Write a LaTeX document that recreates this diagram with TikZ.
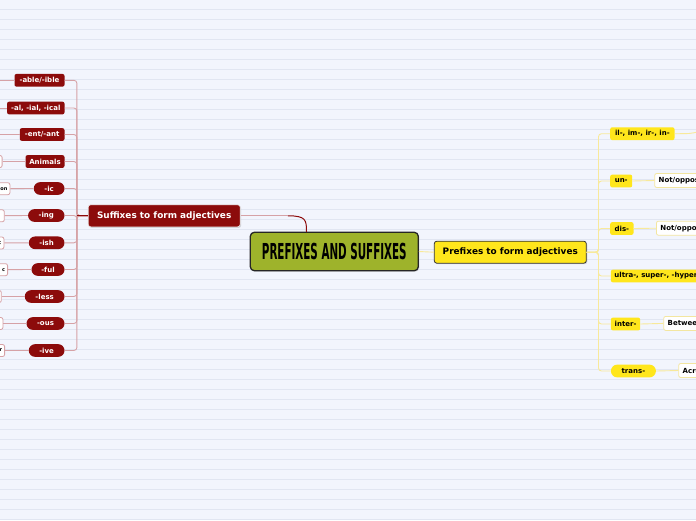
\documentclass[tikz,border=0pt]{standalone}
\usepackage{fontspec}
\setmainfont{DejaVu Sans}
\usetikzlibrary{shadows}
\definecolor{bg}{HTML}{F2F5FD}
\definecolor{bgline}{HTML}{E1E6F2}
\definecolor{dred}{HTML}{8C0B0B}
\definecolor{pinkl}{HTML}{D6A2A6}
\definecolor{olive}{HTML}{9EB32B}
\definecolor{yel}{HTML}{FFE61C}
\definecolor{ylin}{HTML}{F8E99A}
\definecolor{yborder}{HTML}{F3E6A0}
\tikzset{
  sufbox/.style={fill=dred, text=white, font=\fontsize{7}{8}\selectfont\bfseries,
    minimum height=12.7pt, inner sep=0pt, rounded corners=2pt, anchor=east},
  sufpill/.style={sufbox, rounded corners=6.3pt},
  childl/.style={draw=pinkl, fill=white, line width=0.8pt, rounded corners=2pt,
    font=\fontsize{5}{6}\selectfont\bfseries, minimum height=12pt, inner ysep=0pt,
    inner xsep=2.5pt, text width=30pt, align=right, anchor=east},
  pinkline/.style={draw=pinkl, line width=0.9pt},
  ylinestyle/.style={draw=ylin, line width=0.9pt},
  prebox/.style={fill=yel, text=black, font=\fontsize{7}{8}\selectfont\bfseries,
    minimum height=12.8pt, inner sep=0pt, rounded corners=2pt, anchor=west},
  prepill/.style={prebox, rounded corners=6.4pt},
  childr/.style={draw=yborder, fill=white, line width=0.8pt, rounded corners=2pt,
    font=\fontsize{7}{8}\selectfont\bfseries, minimum height=14pt, inner ysep=0pt,
    inner xsep=4pt, anchor=west},
  mainbranch/.style={font=\fontsize{8.9}{10}\selectfont\bfseries, minimum width=152pt,
    minimum height=22pt, inner sep=0pt, rounded corners=2.5pt,
    drop shadow={opacity=0.3, shadow xshift=1pt, shadow yshift=-1pt}}
}
\begin{document}
\begin{tikzpicture}[x=1pt,y=-1pt]
\useasboundingbox (0,0) rectangle (696,520);
\fill[bg] (0,0) rectangle (696,520);
\foreach \k in {0,...,51} \draw[bgline, line width=0.8pt] (0,9.5+10*\k) -- (696,9.5+10*\k);

% central node
\node[fill=olive, draw=black!85, line width=1.3pt, rounded corners=4pt,
  minimum width=168pt, minimum height=38.4pt, inner sep=0pt,
  drop shadow={opacity=0.25, shadow xshift=1pt, shadow yshift=-1pt}]
  (center) at (334.3,251.5)
  {\scalebox{0.47}[1]{\fontsize{22}{22}\selectfont\bfseries PREFIXES AND SUFFIXES}};

% main branches
\node[mainbranch, fill=dred, text=white, draw=white!85!gray, line width=0.6pt]
  (suf) at (164.2,215.8) {Suffixes to form adjectives};
\node[mainbranch, fill=yel, text=black, draw=black!80, line width=0.8pt]
  (pre) at (510.3,252.2) {Prefixes to form adjectives};

\draw[pinkline] (suf.east) -- (288,215.8);
\draw[dred, line width=1pt] (288,215.8) .. controls (306,215.8) and (306.5,220) .. (306.5,232);
\draw[ylinestyle] (center.east) -- (pre.west);

% suffix nodes
\node[sufbox, minimum width=50pt]   (s1)  at (64.7,80.3)  {-able/-ible};
\node[sufbox, minimum width=57.4pt] (s2)  at (64.7,108)   {-al, -ial, -ical};
\node[sufbox, minimum width=44.7pt] (s3)  at (64.7,134.5) {-ent/-ant};
\node[sufbox, minimum width=39pt]   (s4)  at (64.7,161.5) {Animals};
\node[sufpill, minimum width=30.7pt] (s5) at (64.7,188.5) {-ic};
\node[sufpill, minimum width=36.4pt] (s6) at (64.7,215.5) {-ing};
\node[sufpill, minimum width=35.7pt] (s7) at (64.7,242.8) {-ish};
\node[sufpill, minimum width=33pt]   (s8) at (64.7,269.5) {-ful};
\node[sufpill, minimum width=39.7pt] (s9) at (64.7,296.5) {-less};
\node[sufpill, minimum width=38pt]   (s10) at (64.7,323.5) {-ous};
\node[sufpill, minimum width=35.7pt] (s11) at (64.7,350.5) {-ive};

\foreach \s in {s1,s2,s3,s4,s5,s6,s7,s8,s9,s10,s11}
  \draw[pinkline, rounded corners=3pt] (suf.west) -- ++(-11,0) |- (\s.east);
\draw[dred, line width=1pt] (suf.west) -- ++(-11,0);

% children on the left
\coordinate (c1) at (-2,80.3);
\coordinate (c2) at (-2,108);
\coordinate (c3) at (-2,134.5);
\node[childl] (c4)  at (2.5,161.5) {};
\node[childl] (c5)  at (10.3,188.7) {on};
\node[childl] (c6)  at (4.7,215.8) {};
\node[childl] (c7)  at (4.3,243) {c};
\node[childl] (c8)  at (8,269.7) {c};
\node[childl] (c9)  at (1.7,296.5) {};
\node[childl] (c10) at (3.3,323.5) {};
\node[childl] (c11) at (5,350.5) {r};
\foreach \i in {1,...,11}
  \draw[pinkline] (c\i) -- (s\i.west);

% prefix nodes
\node[prebox, minimum width=64.3pt] (p1) at (610,133.7) {il-, im-, ir-, in-};
\node[prebox, minimum width=22pt]   (p2) at (610,181)   {un-};
\node[prebox, minimum width=23.3pt] (p3) at (610,228.5) {dis-};
\node[prebox, inner xsep=3.5pt]     (p4) at (610.7,276) {ultra-, super-, -hyper-};
\node[prebox, minimum width=29.3pt] (p5) at (610.7,324) {inter-};
\node[prepill, minimum width=45pt]  (p6) at (610.7,371) {trans-};

\foreach \p in {p1,p2,p3,p4,p5,p6}
  \draw[ylinestyle, rounded corners=3pt] (pre.east) -- ++(11.8,0) |- (\p.west);

% children on the right
\coordinate (q1) at (700,131.5);
\node[childr] (q2) at (654.3,180.5) {Not/opposite};
\node[childr] (q3) at (656,228.2) {Not/opposite};
\node[childr] (q5) at (663.3,323.4) {Between};
\node[childr] (q6) at (678.3,370.5) {Across};
\draw[ylinestyle] (p1.east) .. controls (690,133.7) .. (q1);
\foreach \i in {2,3,5,6}
  \draw[ylinestyle] (p\i.east) -- (q\i.west);
\end{tikzpicture}
\end{document}
